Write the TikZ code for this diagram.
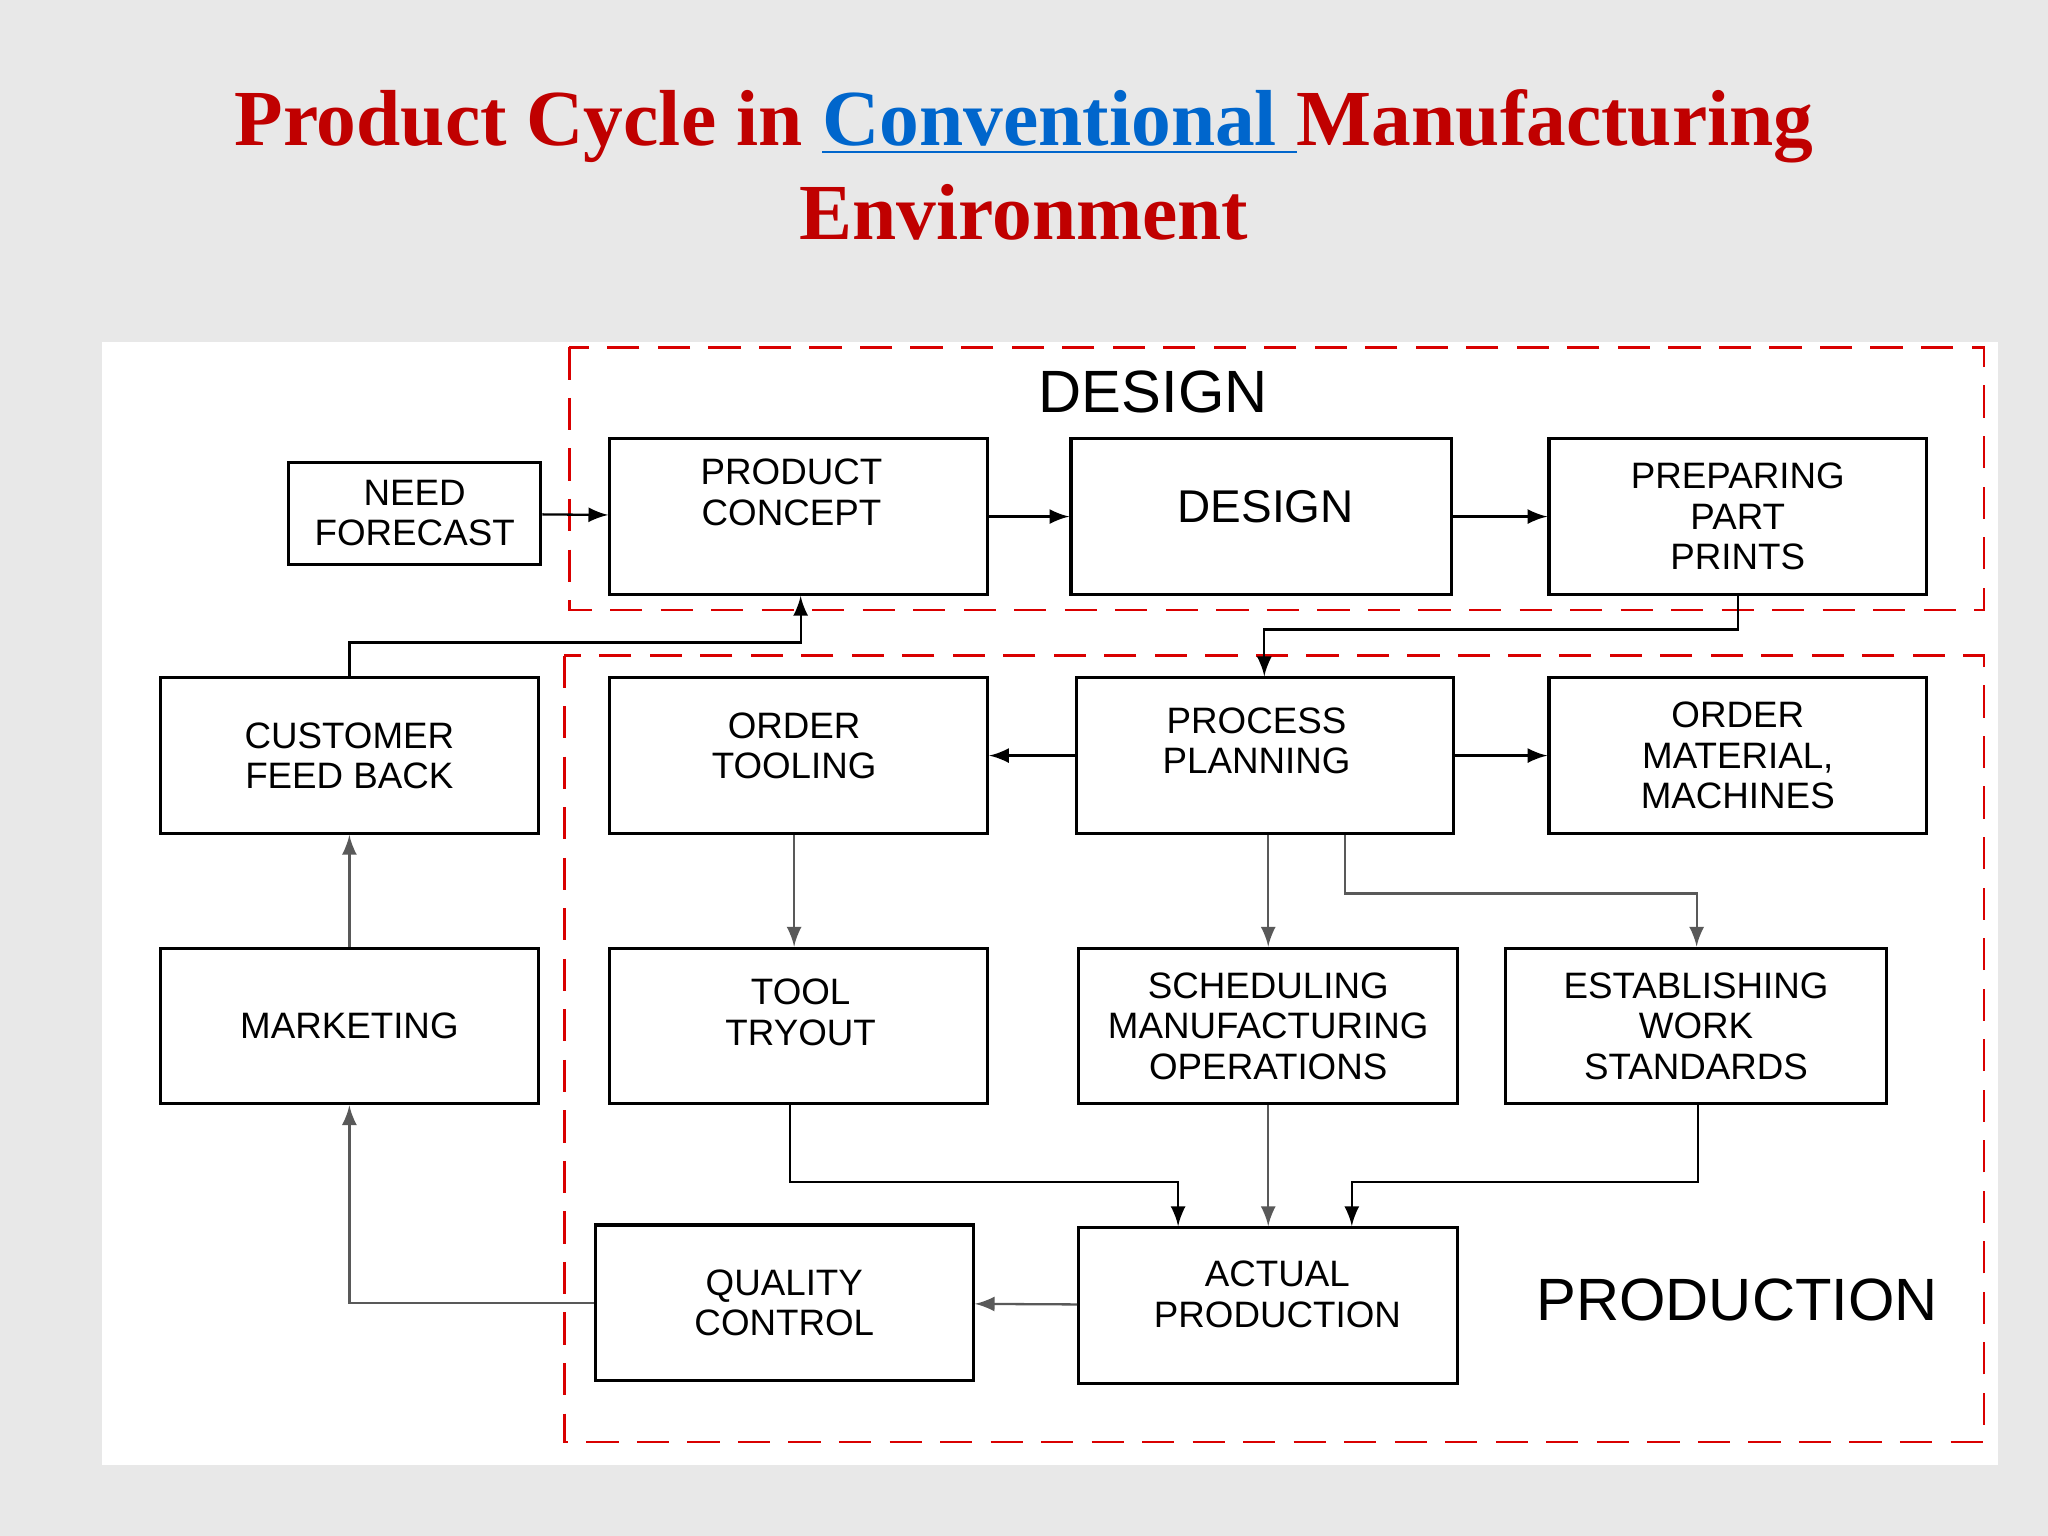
\documentclass[tikz,border=0pt]{standalone}
\usepackage{fontspec}
\setmainfont{Liberation Serif}
\newfontfamily\boxfont{Liberation Sans}
\usetikzlibrary{positioning,calc}
\definecolor{titlered}{RGB}{192,0,0}
\definecolor{linkblue}{RGB}{0,102,204}
\tikzset{
  blk/.style={draw,line width=0.7pt,fill=white,align=center,inner sep=0pt,font=\boxfont\fontsize{8}{8.8}\selectfont},
  zone/.style={draw=red!85!black,dashed,dash pattern=on 7pt off 4pt,line width=0.6pt},
  link/.style={-latex,line width=0.5pt,>=latex},
  glink/.style={link,draw=gray!70!black}
}
\begin{document}
\begin{tikzpicture}[x=0.01cm,y=-0.01cm]
\useasboundingbox (0,0) rectangle (1568,1176);
\fill[gray!18] (0,0) rectangle (1568,1176);
\fill[white] (78,262) rectangle (1530,1122);
% title
\node[font=\bfseries\fontsize{17.3}{20.5}\selectfont,text=titlered,align=center] (title) at (784,126)
  {Product Cycle in \textcolor{linkblue}{\underline{Conventional }}Manufacturing\\Environment};
% zones
\draw[zone] (436,266) rectangle (1519,467);
\draw[zone] (432,502) rectangle (1519,1104);
\node[font=\boxfont\fontsize{13}{13}\selectfont] (designlbl) at (883,300) {DESIGN};
\node[font=\boxfont\fontsize{13}{13}\selectfont] (prodlbl) at (1330,995) {PRODUCTION};
% boxes
\node[blk,minimum width=1.93cm,minimum height=0.78cm] (need) at (317.5,393) {NEED\\FORECAST};
\node[blk,minimum width=2.89cm,minimum height=1.19cm] (concept) at (611.5,395.5) {};
\node[blk,draw=none,fill=none] (concepttxt) at (606,377) {PRODUCT\\CONCEPT};
\node[blk,minimum width=2.91cm,minimum height=1.19cm] (design) at (965.5,395.5) {};
\node[blk,draw=none,fill=none,font=\boxfont\fontsize{10}{10}\selectfont] (designtxt) at (969,388) {DESIGN};
\node[blk,minimum width=2.89cm,minimum height=1.19cm] (prints) at (1330.5,395.5) {PREPARING\\PART\\PRINTS};
\node[blk,minimum width=2.89cm,minimum height=1.19cm] (feedback) at (267.5,578.5) {CUSTOMER\\FEED BACK};
\node[blk,minimum width=2.89cm,minimum height=1.19cm] (tooling) at (611.5,578.5) {};
\node[blk,draw=none,fill=none] (toolingtxt) at (608,571) {ORDER\\TOOLING};
\node[blk,minimum width=2.89cm,minimum height=1.19cm] (planning) at (968.5,578.5) {};
\node[blk,draw=none,fill=none] (planningtxt) at (962,567) {PROCESS\\PLANNING};
\node[blk,minimum width=2.89cm,minimum height=1.19cm] (material) at (1330.5,578.5) {ORDER\\MATERIAL,\\MACHINES};
\node[blk,minimum width=2.89cm,minimum height=1.19cm] (marketing) at (267.5,785.5) {MARKETING};
\node[blk,minimum width=2.89cm,minimum height=1.19cm] (tryout) at (611.5,785.5) {};
\node[blk,draw=none,fill=none] (tryouttxt) at (613,775) {TOOL\\TRYOUT};
\node[blk,minimum width=2.90cm,minimum height=1.19cm] (scheduling) at (971,785.5) {SCHEDULING\\MANUFACTURING\\OPERATIONS};
\node[blk,minimum width=2.91cm,minimum height=1.19cm] (standards) at (1298.5,785.5) {ESTABLISHING\\WORK\\STANDARDS};
\node[blk,minimum width=2.89cm,minimum height=1.19cm] (quality) at (600.5,997.5) {QUALITY\\CONTROL};
\node[blk,minimum width=2.90cm,minimum height=1.19cm] (actual) at (971,999.5) {};
\node[blk,draw=none,fill=none] (actualtxt) at (978,991) {ACTUAL\\PRODUCTION};
% connectors
\draw[link] (need) -- (concept);
\draw[link] (concept) -- (design);
\draw[link] (design) -- (prints);
\draw[link] (prints.south) |- (968,482) -- (planning.north -| 968,0);
\draw[link] (feedback.north) |- (613,492) -- (concept.south -| 613,0);
\draw[link] (planning) -- (tooling);
\draw[link] (planning) -- (material);
\draw[glink] (tooling.south -| 608,0) -- (tryout.north -| 608,0);
\draw[glink] (planning.south -| 971,0) -- (scheduling.north -| 971,0);
\draw[glink] (planning.south -| 1030,0) |- (1299,684) -- (standards.north -| 1299,0);
\draw[link] (tryout.south -| 605,0) |- (902,905) -- (actual.north -| 902,0);
\draw[glink] (scheduling.south) -- (actual.north -| 971,0);
\draw[link] (standards.south -| 1300,0) |- (1035,905) -- (actual.north -| 1035,0);
\draw[glink] (actual) -- (quality);
\draw[glink] (quality.west) -| (marketing.south);
\draw[glink] (marketing) -- (feedback);
\end{tikzpicture}
\end{document}
